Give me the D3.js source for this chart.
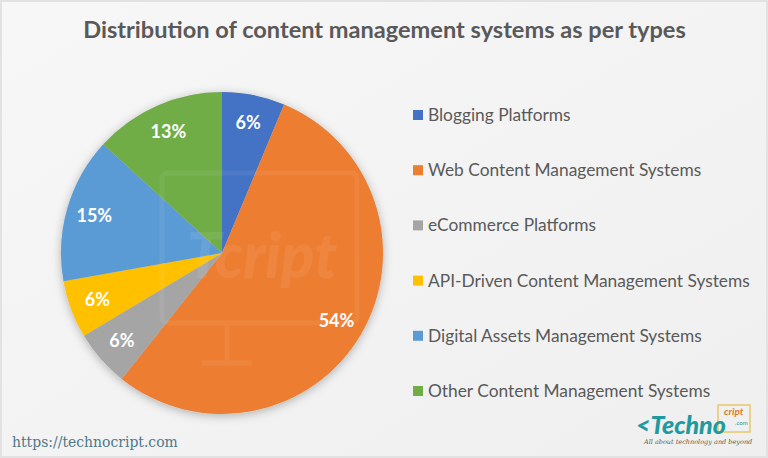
<!DOCTYPE html>
<html><head><meta charset="utf-8">
<script src="https://cdn.jsdelivr.net/npm/d3@7"></script>
<style>
html,body{margin:0;padding:0;background:#f3f3f3;}
svg{display:block;}
</style></head>
<body>
<svg id="chart" width="768" height="458"></svg>
<script>
const categories = ["Blogging Platforms","Web Content Management Systems","eCommerce Platforms","API-Driven Content Management Systems","Digital Assets Management Systems","Other Content Management Systems"];
const values = [6.3, 54.4, 5.7, 5.8, 14.6, 13.2];
const percentLabels = ["6%","54%","6%","6%","15%","13%"];
const colors = ["#4472C4","#ED7D31","#A5A5A5","#FFC000","#5B9BD5","#70AD47"];
const titleText = "Distribution of content management systems as per types";

const svg = d3.select("#chart");
const W = 768, H = 458;
const defs = svg.append("defs");
const bg = defs.append("linearGradient").attr("id","bg").attr("x1","0").attr("y1","0").attr("x2","1").attr("y2","1");
bg.append("stop").attr("offset","0").attr("stop-color","#f7f7f7");
bg.append("stop").attr("offset","1").attr("stop-color","#efefef");
const f = defs.append("filter").attr("id","shadow").attr("x","-20%").attr("y","-20%").attr("width","140%").attr("height","140%");
f.append("feDropShadow").attr("dx",0).attr("dy",2).attr("stdDeviation",5).attr("flood-color","#000").attr("flood-opacity",0.28);

svg.append("rect").attr("width",W).attr("height",H).attr("fill","url(#bg)");
svg.append("rect").attr("x",1).attr("y",1).attr("width",W-2).attr("height",H-2).attr("fill","none").attr("stroke","#e2e2e2").attr("stroke-width",2);

function fitText(sel, targetWidth){
  const w = sel.node().getComputedTextLength();
  const fs = parseFloat(sel.attr("font-size"));
  sel.attr("font-size", fs*targetWidth/w);
}

// Title
const title = svg.append("text").attr("x",384.5).attr("y",38).attr("text-anchor","middle")
  .attr("font-family","Lato, 'Open Sans', sans-serif").attr("font-weight","bold").attr("font-size",22)
  .attr("fill","#595959").text(titleText);
fitText(title, 603);

// Pie
const cx = 222, cy = 253, R = 161;
const pie = d3.pie().sort(null).value(d=>d)(values);
const arc = d3.arc().innerRadius(0).outerRadius(R);
const labelArc = d3.arc().innerRadius(133).outerRadius(133);
const g = svg.append("g").attr("transform",`translate(${cx},${cy})`);
g.append("circle").attr("r",R).attr("fill","#ccc").attr("filter","url(#shadow)");
g.selectAll("path.slice").data(pie).enter().append("path").attr("class","slice")
  .attr("d",arc).attr("fill",(d,i)=>colors[i]);

// faint watermark
const wm = g.append("g").attr("opacity",0.06).attr("fill","none").attr("stroke","#ffffff").attr("stroke-width",5);
wm.append("rect").attr("x",-60).attr("y",-80).attr("width",195).attr("height",150).attr("rx",6);
wm.append("path").attr("d","M 5 70 L 5 110 M -20 110 L 30 110");
g.append("text").attr("x",40).attr("y",25).attr("text-anchor","middle").attr("font-family","Lato, sans-serif")
  .attr("font-style","italic").attr("font-weight","900").attr("font-size",62).attr("fill","#ffffff").attr("opacity",0.07).text("Tcript");

g.selectAll("text.lbl").data(pie).enter().append("text").attr("class","lbl")
  .attr("transform",d=>`translate(${labelArc.centroid(d)})`)
  .attr("text-anchor","middle").attr("dy","0.36em")
  .attr("font-family","Lato, 'Open Sans', sans-serif").attr("font-weight","bold").attr("font-size",18)
  .attr("fill","#ffffff").text((d,i)=>percentLabels[i]);

// Legend
const legY = d3.scalePoint().domain(categories).range([115,391]);
const leg = svg.append("g");
const items = leg.selectAll("g").data(categories).enter().append("g")
  .attr("transform",d=>`translate(413,${legY(d)})`);
items.append("rect").attr("x",0).attr("y",-5).attr("width",10).attr("height",10).attr("fill",(d,i)=>colors[i]);
const legTexts = items.append("text").attr("x",15).attr("dy","0.35em")
  .attr("font-family","Lato, 'Open Sans', sans-serif").attr("font-size",16).attr("fill","#595959").text(d=>d);
let maxW = 0; legTexts.each(function(){ maxW = Math.max(maxW, this.getComputedTextLength()); });
legTexts.attr("font-size", 16*322/maxW);

// URL
const url = svg.append("text").attr("x",12).attr("y",447).attr("font-family","'DejaVu Serif', serif")
  .attr("font-size",14).attr("fill","#4f7888").text("https://technocript.com");
fitText(url, 166);

// Logo
const logo = svg.append("g").attr("transform","translate(636,434)");
logo.append("rect").attr("x",82).attr("y",-29).attr("width",32).attr("height",27).attr("fill","none").attr("stroke","#e8c86a").attr("stroke-width",1.5);
logo.append("text").attr("x",0).attr("y",0).attr("font-family","Lato, sans-serif").attr("font-style","italic").attr("font-weight","900")
  .attr("font-size",25).attr("fill","#1e9aa0").text("<Techno");
logo.append("text").attr("x",88).attr("y",-19).attr("font-family","Lato, sans-serif").attr("font-style","italic").attr("font-weight","bold")
  .attr("font-size",10).attr("fill","#e07a2a").text("cript");
logo.append("text").attr("x",99).attr("y",-9).attr("font-family","Lato, sans-serif").attr("font-size",6).attr("fill","#1e9aa0").text(".com");
logo.append("text").attr("x",8).attr("y",10).attr("font-family","'DejaVu Serif', serif").attr("font-style","italic")
  .attr("font-size",6.5).attr("fill","#6b5a3a").text("All about technology and beyond");
</script>
</body></html>
